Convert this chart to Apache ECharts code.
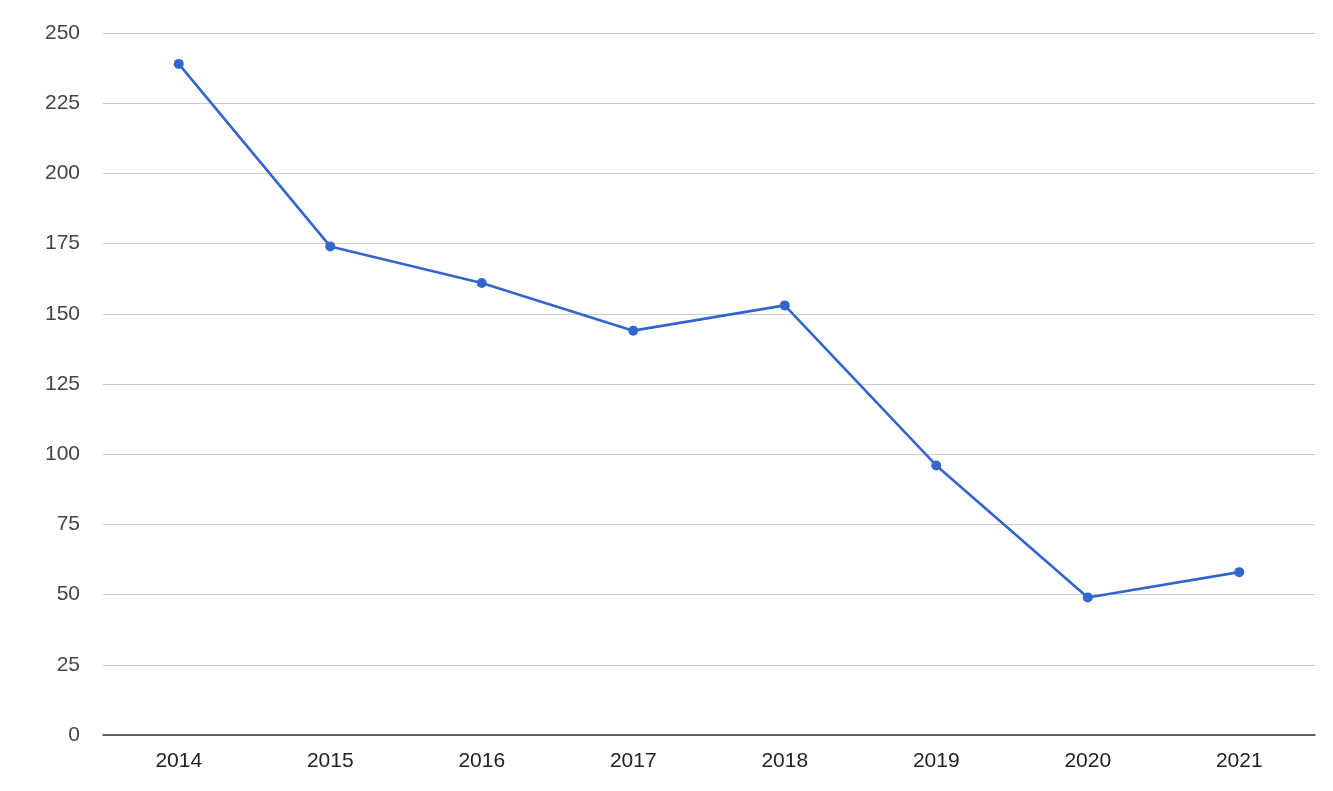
<!DOCTYPE html>
<html><head><meta charset="utf-8">
<script src="https://cdn.jsdelivr.net/npm/echarts@6/dist/echarts.min.js"></script>
<style>html,body{margin:0;padding:0;background:#fff}#c{width:1333px;height:791px}</style>
</head><body><div id="c"></div>
<script>
const categories = ['2014','2015','2016','2017','2018','2019','2020','2021'];
const values = [239, 174, 161, 144, 153, 96, 49, 58];
const yTicks = {min: 0, max: 250, interval: 25};

const chart = echarts.init(document.getElementById('c'));
chart.setOption({
  animation: false,
  grid: {left: 103, right: 18, top: 33, bottom: 56},
  xAxis: {
    type: 'category', data: categories, boundaryGap: true,
    axisLine: {lineStyle: {color: '#333', width: 1.5}},
    axisTick: {show: false},
    axisLabel: {color: '#222', fontSize: 21, fontFamily: 'Arial, Liberation Sans', margin: 16}
  },
  yAxis: {
    type: 'value', min: yTicks.min, max: yTicks.max, interval: yTicks.interval,
    axisLine: {show: false}, axisTick: {show: false},
    splitLine: {lineStyle: {color: '#ccc', width: 1}},
    axisLabel: {color: '#444', fontSize: 21, fontFamily: 'Arial, Liberation Sans', margin: 23}
  },
  series: [{
    type: 'line', data: values,
    symbol: 'circle', symbolSize: 10,
    lineStyle: {color: '#3366cc', width: 2.6},
    itemStyle: {color: '#3366cc'}
  }]
});
</script></body></html>
